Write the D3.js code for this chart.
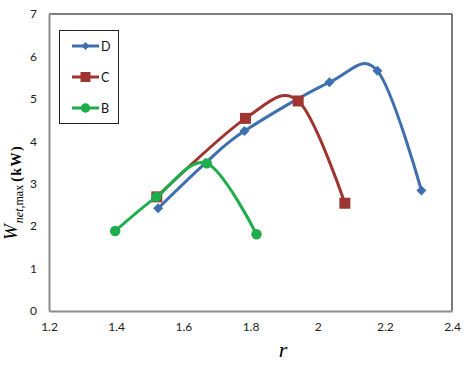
<!DOCTYPE html>
<html><head><meta charset="utf-8">
<script src="https://cdn.jsdelivr.net/npm/d3@7"></script>
<style>body{margin:0;background:#fff}svg{display:block}</style>
</head><body><svg id="c" width="474" height="375"></svg>
<script>
const xTicks = [1.2, 1.4, 1.6, 1.8, 2, 2.2, 2.4];
const yTicks = [0, 1, 2, 3, 4, 5, 6, 7];
const seriesNames = ["D", "C", "B"];
const rD = [1.525, 1.665, 1.782, 2.035, 2.178, 2.309];
const wD = [2.42, 3.48, 4.24, 5.39, 5.66, 2.84];
const rC = [1.521, 1.785, 1.942, 2.081];
const wC = [2.69, 4.54, 4.95, 2.54];
const rB = [1.397, 1.52, 1.67, 1.818];
const wB = [1.885, 2.69, 3.48, 1.81];
const colors = ["#3F6FAE", "#9E3530", "#1DAE4B"];
const markers = ["diamond", "square", "circle"];

const svg = d3.select("#c");
const L = 49, R = 452, T = 14, B = 311;
const x = d3.scaleLinear().domain([1.2, 2.4]).range([L, R]);
const y = d3.scaleLinear().domain([0, 7]).range([B, T]);

// frame
svg.append("line").attr("x1", L).attr("x2", R).attr("y1", T).attr("y2", T).attr("stroke", "#555").attr("stroke-width", 1.3);
svg.append("line").attr("x1", R).attr("x2", R).attr("y1", T).attr("y2", B).attr("stroke", "#333").attr("stroke-width", 1.3);

const font = "Lato, 'Open Sans', sans-serif";
const xa = svg.append("g").attr("transform", `translate(0,${B})`)
  .call(d3.axisBottom(x).tickValues(xTicks).tickSize(0).tickPadding(11).tickFormat(d3.format("")));
const ya = svg.append("g").attr("transform", `translate(${L},0)`)
  .call(d3.axisLeft(y).tickValues(yTicks).tickSize(0).tickPadding(12).tickFormat(d3.format("d")));
[xa, ya].forEach(a => {
  a.select(".domain").attr("stroke", "#8c8c8c").attr("stroke-width", 2);
  a.selectAll("text").attr("font-family", font).attr("font-size", 12).attr("fill", "#222");
});

const data = [
  rD.map((v, i) => [v, wD[i]]),
  rC.map((v, i) => [v, wC[i]]),
  rB.map((v, i) => [v, wB[i]])
];
const line = d3.line().x(d => x(d[0])).y(d => y(d[1])).curve(d3.curveCardinal.tension(0));

function marker(g, type, cx, cy, color, s) {
  if (type === "diamond") {
    g.append("path").attr("d", `M${cx},${cy - s}L${cx + s},${cy}L${cx},${cy + s}L${cx - s},${cy}Z`).attr("fill", color);
  } else if (type === "square") {
    g.append("rect").attr("x", cx - s).attr("y", cy - s).attr("width", 2 * s).attr("height", 2 * s).attr("fill", color);
  } else {
    g.append("circle").attr("cx", cx).attr("cy", cy).attr("r", s).attr("fill", color);
  }
}
const sizes = [5, 5.5, 5.2];

data.forEach((pts, k) => {
  const g = svg.append("g");
  g.append("path").attr("d", line(pts)).attr("fill", "none").attr("stroke", colors[k]).attr("stroke-width", 3);
  pts.forEach(p => marker(g, markers[k], x(p[0]), y(p[1]), colors[k], sizes[k]));
});

// legend
const lg = svg.append("g");
lg.append("rect").attr("x", 59.5).attr("y", 30.5).attr("width", 59).attr("height", 93).attr("fill", "#fff").attr("stroke", "#222").attr("stroke-width", 1);
const ly = [46, 77, 108];
const lsizes = [4, 5, 4.7];
seriesNames.forEach((n, k) => {
  lg.append("line").attr("x1", 72).attr("x2", 99).attr("y1", ly[k]).attr("y2", ly[k]).attr("stroke", colors[k]).attr("stroke-width", 3);
  marker(lg, markers[k], 85.5, ly[k], colors[k], lsizes[k]);
  lg.append("text").attr("x", 101).attr("y", ly[k] + 4.5).text(n).attr("font-family", font).attr("font-size", 12.5).attr("fill", "#111");
});

// axis titles
svg.append("text").attr("x", 283).attr("y", 357).attr("text-anchor", "middle")
  .attr("font-family", "'Liberation Serif', 'Times New Roman', serif").attr("font-style", "italic").attr("font-size", 22).text("r");

const yt = svg.append("text").attr("transform", "translate(17,240) rotate(-90)").attr("text-anchor", "start")
  .attr("font-family", "'Liberation Serif', 'Times New Roman', serif").attr("fill", "#000");
yt.append("tspan").attr("font-style", "italic").attr("font-size", 19).text("W");
yt.append("tspan").attr("font-style", "italic").attr("font-size", 12).attr("dy", 6).attr("dx", 1).text("net");
yt.append("tspan").attr("font-size", 12).text(",max ");
yt.append("tspan").attr("font-weight", "bold").attr("font-size", 14).attr("letter-spacing", 1.5).attr("dy", -2.5).text("(kW)");
</script></body></html>
